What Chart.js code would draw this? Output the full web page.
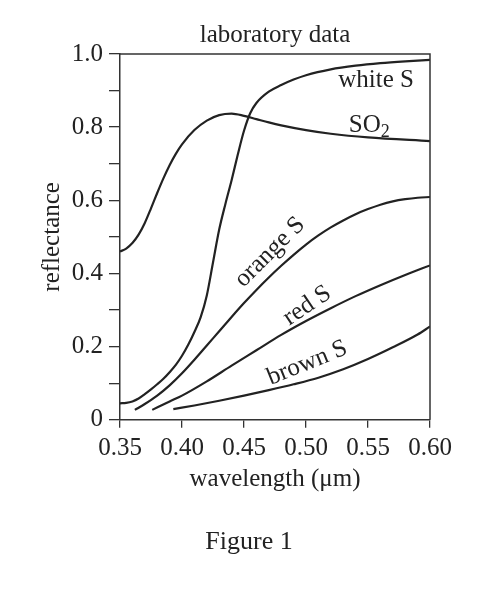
<!DOCTYPE html>
<html>
<head>
<title>laboratory data - Figure 1</title>
<script src="https://cdn.jsdelivr.net/npm/chart.js@4.4.1/dist/chart.umd.min.js"></script>
<style>
  html, body { margin: 0; padding: 0; background: #fff; }
  #container { width: 480px; height: 590px; position: relative; }
</style>
</head>
<body>
<div id="container"><canvas id="canvas"></canvas></div>
<script>

// values: wavelength (um) and reflectance
var so2Wave   = [0.35, 0.355, 0.36, 0.365, 0.37, 0.375, 0.38, 0.385, 0.39, 0.395, 0.40, 0.41, 0.42, 0.43, 0.44, 0.45, 0.46, 0.47, 0.48, 0.50, 0.52, 0.55, 0.60];
var so2Refl   = [0.46, 0.468, 0.483, 0.506, 0.538, 0.578, 0.62, 0.66, 0.696, 0.727, 0.753, 0.792, 0.818, 0.833, 0.837, 0.831, 0.822, 0.813, 0.805, 0.792, 0.782, 0.772, 0.762];

var whiteWave = [0.35, 0.355, 0.36, 0.365, 0.37, 0.375, 0.38, 0.385, 0.39, 0.395, 0.40, 0.405, 0.41, 0.415, 0.42, 0.425, 0.43, 0.435, 0.44, 0.445, 0.45, 0.455, 0.46, 0.47, 0.48, 0.49, 0.50, 0.52, 0.54, 0.56, 0.58, 0.60];
var whiteRefl = [0.045, 0.046, 0.05, 0.058, 0.07, 0.083, 0.097, 0.112, 0.13, 0.15, 0.175, 0.205, 0.24, 0.28, 0.34, 0.43, 0.52, 0.59, 0.655, 0.725, 0.79, 0.838, 0.866, 0.897, 0.915, 0.93, 0.942, 0.958, 0.968, 0.975, 0.98, 0.984];

var orangeWave = [0.362, 0.37, 0.38, 0.39, 0.40, 0.41, 0.42, 0.43, 0.44, 0.45, 0.46, 0.47, 0.48, 0.49, 0.50, 0.51, 0.52, 0.53, 0.54, 0.55, 0.56, 0.57, 0.58, 0.59, 0.60];
var orangeRefl = [0.027, 0.043, 0.066, 0.094, 0.127, 0.164, 0.203, 0.242, 0.281, 0.319, 0.355, 0.389, 0.421, 0.451, 0.479, 0.504, 0.526, 0.545, 0.562, 0.576, 0.588, 0.597, 0.603, 0.607, 0.609];

var redWave = [0.376, 0.39, 0.40, 0.42, 0.44, 0.46, 0.48, 0.50, 0.52, 0.54, 0.56, 0.58, 0.60];
var redRefl = [0.027, 0.05, 0.066, 0.105, 0.148, 0.19, 0.232, 0.27, 0.305, 0.338, 0.368, 0.396, 0.422];

var brownWave = [0.393, 0.41, 0.43, 0.45, 0.47, 0.49, 0.51, 0.53, 0.55, 0.57, 0.59, 0.60];
var brownRefl = [0.029, 0.039, 0.052, 0.066, 0.081, 0.097, 0.115, 0.138, 0.166, 0.198, 0.233, 0.255];

var curveNames = ['white S', 'SO_2', 'orange S', 'red S', 'brown S'];

var xTicks = [0.35, 0.40, 0.45, 0.50, 0.55, 0.60];
var xTickLabels = ['0.35', '0.40', '0.45', '0.50', '0.55', '0.60'];
var yTicks = [0, 0.1, 0.2, 0.3, 0.4, 0.5, 0.6, 0.7, 0.8, 0.9, 1.0];
var yTickLabels = ['0', '', '0.2', '', '0.4', '', '0.6', '', '0.8', '', '1.0'];

var ink = '#222';
var serif = '"Liberation Serif", "Times New Roman", serif';

function toPoints(wave, refl) {
  var pts = [];
  for (var i in wave) {
    pts.push({ x: wave[i], y: refl[i] });
  }
  return pts;
}

function curve(name, wave, refl) {
  return {
    label: name,
    data: toPoints(wave, refl),
    borderColor: ink,
    borderWidth: 2.2,
    pointRadius: 0,
    fill: false,
    cubicInterpolationMode: 'monotone'
  };
}

// where each curve name sits (data coords) and its rotation in degrees
var labelSpots = [
  [0.5565, 0.929, 0],
  [0.551, 0.806, 0],
  [0.471, 0.458, 45],
  [0.501, 0.312, 34],
  [0.501, 0.155, 22]
];

// draws "SO_2" style text with a lowered, smaller digit
function drawSubText(ctx, text, size) {
  var parts = text.split('_');
  if (parts.length == 1) {
    ctx.textAlign = 'center';
    ctx.fillText(text, 0, 0);
    return;
  }
  ctx.font = size + 'px ' + serif;
  var w1 = ctx.measureText(parts[0]).width;
  ctx.font = Math.round(size * 0.72) + 'px ' + serif;
  var w2 = ctx.measureText(parts[1]).width;
  var start = -(w1 + w2) / 2;
  ctx.textAlign = 'left';
  ctx.font = size + 'px ' + serif;
  ctx.fillText(parts[0], start, 0);
  ctx.font = Math.round(size * 0.72) + 'px ' + serif;
  ctx.fillText(parts[1], start + w1, size * 0.28);
}

var decorPlugin = {
  id: 'decor',
  afterDatasetsDraw: function(chart) {
    var ctx = chart.ctx;
    var area = chart.chartArea;
    var xs = chart.scales.x, ys = chart.scales.y;
    ctx.save();

    // top and right frame
    ctx.strokeStyle = '#333';
    ctx.lineWidth = 1.5;
    ctx.beginPath();
    ctx.moveTo(area.left, area.top);
    ctx.lineTo(area.right, area.top);
    ctx.lineTo(area.right, area.bottom);
    ctx.stroke();

    // curve names
    ctx.fillStyle = ink;
    ctx.textBaseline = 'middle';
    for (var i = 0; i < curveNames.length; i++) {
      var px = xs.getPixelForValue(labelSpots[i][0]);
      var py = ys.getPixelForValue(labelSpots[i][1]);
      ctx.save();
      ctx.translate(px, py);
      ctx.rotate(-labelSpots[i][2] * Math.PI / 180);
      ctx.font = '25px ' + serif;
      drawSubText(ctx, curveNames[i], 25);
      ctx.restore();
    }

    // caption under the figure
    ctx.font = '26px ' + serif;
    ctx.textAlign = 'center';
    ctx.fillText('Figure 1', chart.width / 2 + 9, 542);
    ctx.restore();
  }
};

Chart.defaults.font.family = serif;
Chart.defaults.color = ink;

var ctx = document.getElementById('canvas').getContext('2d');
window.reflChart = new Chart(ctx, {
  type: 'line',
  data: {
    datasets: [
      curve('SO2', so2Wave, so2Refl),
      curve('white S', whiteWave, whiteRefl),
      curve('orange S', orangeWave, orangeRefl),
      curve('red S', redWave, redRefl),
      curve('brown S', brownWave, brownRefl)
    ]
  },
  options: {
    responsive: true,
    maintainAspectRatio: false,
    animation: false,
    layout: { padding: { left: 0, right: 50, top: 0, bottom: 100 } },
    plugins: {
      legend: { display: false },
      tooltip: { enabled: false },
      title: {
        display: true,
        text: 'laboratory data',
        fullSize: false,
        color: ink,
        font: { size: 25, weight: 'normal', lineHeight: 1.2 },
        padding: { top: 20, bottom: 4 }
      }
    },
    scales: {
      x: {
        type: 'linear',
        min: 0.35,
        max: 0.60,
        afterBuildTicks: function(axis) {
          axis.ticks = xTicks.map(function(v) { return { value: v }; });
        },
        ticks: {
          autoSkip: false,
          maxRotation: 0,
          padding: 8,
          color: ink,
          font: { size: 25, lineHeight: 1.0 },
          callback: function(value, index) { return xTickLabels[index]; }
        },
        grid: { drawOnChartArea: false, drawTicks: true, tickLength: 8, color: '#333', lineWidth: 1.3 },
        border: { display: true, color: '#333', width: 1.5 },
        title: {
          display: true,
          text: 'wavelength (\u03bcm)',
          color: ink,
          font: { size: 25, lineHeight: 0.85 },
          padding: { top: 0, bottom: 0 }
        }
      },
      y: {
        type: 'linear',
        min: 0,
        max: 1.0,
        afterBuildTicks: function(axis) {
          axis.ticks = yTicks.map(function(v) { return { value: v }; });
        },
        afterFit: function(axis) { axis.width = 120; },
        ticks: {
          autoSkip: false,
          padding: 6,
          color: ink,
          font: { size: 25, lineHeight: 1.1 },
          callback: function(value, index) { return yTickLabels[index]; }
        },
        grid: { drawOnChartArea: false, drawTicks: true, tickLength: 11, color: '#333', lineWidth: 1.3 },
        border: { display: true, color: '#333', width: 1.5 },
        title: {
          display: true,
          text: 'reflectance',
          color: ink,
          font: { size: 25, lineHeight: 1.1 },
          padding: { top: 39, bottom: 0 }
        }
      }
    }
  },
  plugins: [decorPlugin]
});

</script>
</body>
</html>
